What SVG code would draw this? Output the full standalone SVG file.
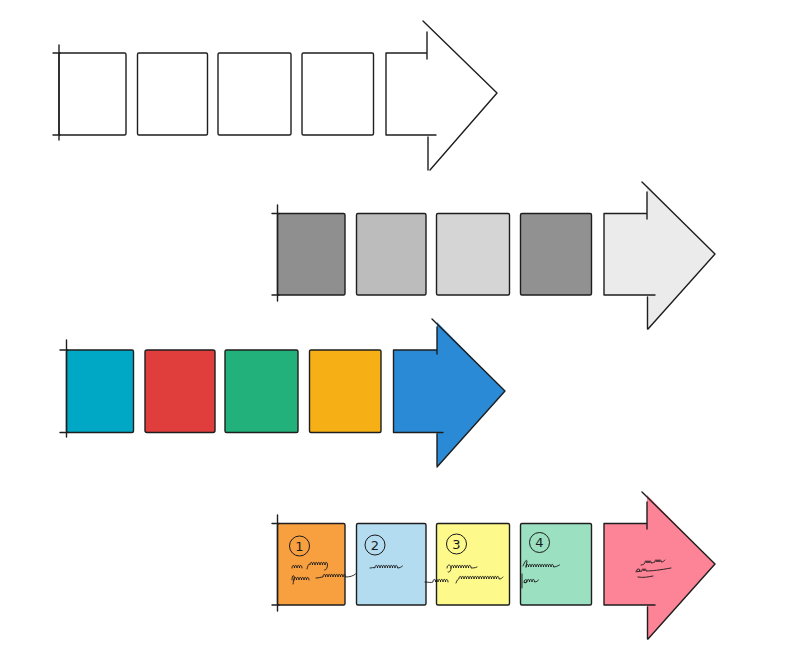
<svg xmlns="http://www.w3.org/2000/svg" width="800" height="667" viewBox="0 0 800 667">
<style>
.bx{stroke:#1e1e1e;stroke-width:1.4;stroke-linejoin:round}
.ln{fill:none;stroke:#1e1e1e;stroke-width:1.4;stroke-linecap:round;stroke-linejoin:round}
.sc{fill:none;stroke:#1a1a1a;stroke-width:0.9;stroke-linecap:round;stroke-linejoin:round}
.num{font-family:"DejaVu Sans",sans-serif;font-size:13px;fill:#1a1a1a;text-anchor:middle}
.cir{fill:none;stroke:#1a1a1a;stroke-width:1}
</style>
<rect width="800" height="667" fill="#ffffff"/>

<!-- Row 1 -->
<g id="r1-box1"><rect class="bx" x="59" y="53" width="67" height="82" rx="1.5" fill="#ffffff"/><path class="ln" d="M53,53 H60 M53,135 H60 M59,45 V140"/></g>
<g id="r1-box2"><rect class="bx" x="137.5" y="53" width="70" height="82" rx="1.5" fill="#ffffff"/></g>
<g id="r1-box3"><rect class="bx" x="218" y="53" width="73" height="82" rx="1.5" fill="#ffffff"/></g>
<g id="r1-box4"><rect class="bx" x="302" y="53" width="71.5" height="82" rx="1.5" fill="#ffffff"/></g>
<g id="r1-arrow"><path d="M386,53 H427 V24 L497,93 L430,170 L428,135 H386 Z" fill="#ffffff"/><path class="ln" d="M386,53 H427 M427,32 V59 M423,21 L497,93 L430,170 M386,135 H436 M428,137 V170 M386,53 V135"/></g>

<!-- Row 2 -->
<g id="r2-box1"><rect class="bx" x="277.5" y="213.5" width="67.5" height="81.5" rx="1.5" fill="#8f8f8f"/><path class="ln" d="M272,213.5 H279 M272,295 H279 M277.5,205 V301"/></g>
<g id="r2-box2"><rect class="bx" x="356.5" y="213.5" width="69.5" height="81.5" rx="1.5" fill="#bcbcbc"/></g>
<g id="r2-box3"><rect class="bx" x="436.5" y="213.5" width="73" height="81.5" rx="1.5" fill="#d5d5d5"/></g>
<g id="r2-box4"><rect class="bx" x="520.5" y="213.5" width="71" height="81.5" rx="1.5" fill="#919191"/></g>
<g id="r2-arrow"><path d="M604,213.5 H647 V185 L715,254 L648,329 L647,295 H604 Z" fill="#ebebeb"/><path class="ln" d="M604,213.5 H647 M647,192 V219 M642,182 L715,254 L648,329 M604,295 H655 M647.5,297 V329 M604,213.5 V295"/></g>

<!-- Row 3 -->
<g id="r3-box1"><rect class="bx" x="66.5" y="350" width="67" height="82.5" rx="1.5" fill="#00a8c6"/><path class="ln" d="M60,350 H68 M60,432.5 H68 M66.5,340 V437"/></g>
<g id="r3-box2"><rect class="bx" x="145" y="350" width="70" height="82.5" rx="2" fill="#e03e3d"/></g>
<g id="r3-box3"><rect class="bx" x="225" y="350" width="73" height="82.5" rx="1.5" fill="#22b17b"/></g>
<g id="r3-box4"><rect class="bx" x="309.5" y="350" width="71.5" height="82.5" rx="1.5" fill="#f6b015"/></g>
<g id="r3-arrow"><path d="M393.5,350 H437 V322 L505,391 L437,467 V432.5 H393.5 Z" fill="#2a8ad5"/><path class="ln" d="M393.5,350 H437 M437,327 V354 M432,319 L505,391 L437,467 M393.5,432.5 H443 M437,434 V466 M393.5,350 V432.5"/></g>

<!-- Row 4 -->
<g id="r4-box1"><rect class="bx" x="277.5" y="523.5" width="67.5" height="81.5" rx="1.5" fill="#f8a040"/><path class="ln" d="M272,523.5 H279 M272,605 H279 M277.5,515 V611"/>
<circle class="cir" cx="299.5" cy="546" r="10"/><text class="num" x="299.5" y="550.5">1</text>
<path class="sc" d="M292,568 c0,-3.5 2.5,-3.5 2.5,0 0,-3.5 2.5,-3.5 2.5,0 0,-3.5 2.5,-3.5 2.5,0 0,-3.5 2.5,-3.5 2.5,0 M307,569 c1,-4 2,-6 3,-4 c0,-3.5 2.5,-3.5 2.5,0 0,-3.5 2.5,-3.5 2.5,0 0,-3.5 2.5,-3.5 2.5,0 0,-3.5 2.5,-3.5 2.5,0 0,-3.5 2.5,-3.5 2.5,0 0,-3.5 2.5,-3.5 2.5,0 0,-3.5 2.5,-3.5 2.5,0 c0,3 -2,6 -3,5 M292,580 c0,-4 1,-5 2,-4 c1,2 -1,6 -1,8 M294,580 c0,-3.5 2.5,-3.5 2.5,0 0,-3.5 2.5,-3.5 2.5,0 0,-3.5 2.5,-3.5 2.5,0 0,-3.5 2.5,-3.5 2.5,0 0,-3.5 2.5,-3.5 2.5,0 0,-3.5 2.5,-3.5 2.5,0 M316,578 c3,0 5,-1 7,-1 c0,-3.5 2.5,-3.5 2.5,0 0,-3.5 2.5,-3.5 2.5,0 0,-3.5 2.5,-3.5 2.5,0 0,-3.5 2.5,-3.5 2.5,0 0,-3.5 2.5,-3.5 2.5,0 0,-3.5 2.5,-3.5 2.5,0 0,-3.5 2.5,-3.5 2.5,0 0,-3.5 2.5,-3.5 2.5,0 0,-3.5 2.5,-3.5 2.5,0 c4,0 8,-1 10,-3"/></g>
<g id="r4-box2"><rect class="bx" x="356.5" y="523.5" width="69.5" height="81.5" rx="1.5" fill="#b4dcf1"/>
<circle class="cir" cx="375" cy="545" r="10"/><text class="num" x="375" y="549.5">2</text>
<path class="sc" d="M370,568 c2,0 4,-1 5,0 c0,-3.5 2.5,-3.5 2.5,0 0,-3.5 2.5,-3.5 2.5,0 0,-3.5 2.5,-3.5 2.5,0 0,-3.5 2.5,-3.5 2.5,0 0,-3.5 2.5,-3.5 2.5,0 0,-3.5 2.5,-3.5 2.5,0 0,-3.5 2.5,-3.5 2.5,0 0,-3.5 2.5,-3.5 2.5,0 0,-3.5 2.5,-3.5 2.5,0 c2,0 4,-1 5,-2"/></g>
<g id="r4-box3"><rect class="bx" x="436.5" y="523.5" width="73" height="81.5" rx="1.5" fill="#fdf98b"/>
<circle class="cir" cx="456.5" cy="544" r="10"/><text class="num" x="456.5" y="548.5">3</text>
<path class="sc" d="M447,568 c0,-4 4,-4 4,0 c0,3 -2,5 -3,4 M451,568 c0,-3.5 2.5,-3.5 2.5,0 0,-3.5 2.5,-3.5 2.5,0 0,-3.5 2.5,-3.5 2.5,0 0,-3.5 2.5,-3.5 2.5,0 0,-3.5 2.5,-3.5 2.5,0 0,-3.5 2.5,-3.5 2.5,0 0,-3.5 2.5,-3.5 2.5,0 0,-3.5 2.5,-3.5 2.5,0 c2,0 4,0 6,-1 M425,582 c3,0 6,1 8,0 c0,-3.5 2.5,-3.5 2.5,0 0,-3.5 2.5,-3.5 2.5,0 0,-3.5 2.5,-3.5 2.5,0 0,-3.5 2.5,-3.5 2.5,0 0,-3.5 2.5,-3.5 2.5,0 0,-3.5 2.5,-3.5 2.5,0 M456,583 c1,-3 2,-4 3,-4 c0,-3.5 2.5,-3.5 2.5,0 0,-3.5 2.5,-3.5 2.5,0 0,-3.5 2.5,-3.5 2.5,0 0,-3.5 2.5,-3.5 2.5,0 0,-3.5 2.5,-3.5 2.5,0 0,-3.5 2.5,-3.5 2.5,0 0,-3.5 2.5,-3.5 2.5,0 0,-3.5 2.5,-3.5 2.5,0 0,-3.5 2.5,-3.5 2.5,0 0,-3.5 2.5,-3.5 2.5,0 0,-3.5 2.5,-3.5 2.5,0 0,-3.5 2.5,-3.5 2.5,0 0,-3.5 2.5,-3.5 2.5,0 0,-3.5 2.5,-3.5 2.5,0 0,-3.5 2.5,-3.5 2.5,0 0,-3.5 2.5,-3.5 2.5,0 c2,0 3,-1 4,-2"/></g>
<g id="r4-box4"><rect class="bx" x="520.5" y="523.5" width="71" height="81.5" rx="1.5" fill="#9be0c1"/>
<circle class="cir" cx="539.5" cy="542.5" r="10"/><text class="num" x="539.5" y="547">4</text>
<path class="sc" d="M522,574 V588 M523,566 c2,-4 3,-7 4,-5 c0,2 -1,4 -1,6 M526,567 c0,-3.5 2.5,-3.5 2.5,0 0,-3.5 2.5,-3.5 2.5,0 0,-3.5 2.5,-3.5 2.5,0 0,-3.5 2.5,-3.5 2.5,0 0,-3.5 2.5,-3.5 2.5,0 0,-3.5 2.5,-3.5 2.5,0 0,-3.5 2.5,-3.5 2.5,0 0,-3.5 2.5,-3.5 2.5,0 0,-3.5 2.5,-3.5 2.5,0 0,-3.5 2.5,-3.5 2.5,0 0,-3.5 2.5,-3.5 2.5,0 c2,0 4,-1 6,-2 M524,582 c0,-3 3,-3 3,-1 c-1,2 -3,2 -3,1 c1,1 2,1 3,0 c0,-3.5 2.5,-3.5 2.5,0 0,-3.5 2.5,-3.5 2.5,0 0,-3.5 2.5,-3.5 2.5,0 c2,0 3,-1 4,-2"/></g>
<g id="r4-arrow"><path d="M604,523.5 H647 V495 L715,564 L648,639 L647,605 H604 Z" fill="#fd8396"/><path class="ln" d="M604,523.5 H647 M647,502 V529 M642,492 L715,564 L648,639 M604,605 H655 M647.5,607 V639 M604,523.5 V605"/>
<path class="sc" d="M641,565 c2,0 3,-1 4,-2 c0,-3 2,-3 2,0 0,-3 2,-3 2,0 0,-3 2,-3 2,0 c2,0 3,-1 4,-1 c0,-3 2,-3 2,0 0,-3 2,-3 2,0 0,-3 2,-3 2,0 c2,0 3,-1 4,-2 M636,572 c0,-3 3,-4 4,-2 c-1,2 -3,2 -3,1 c2,1 4,0 5,0 c0,-3 2,-3 2,0 0,-3 2,-3 2,0 c6,0 14,-1 25,-3 M638,577 c5,1 10,0 15,-1"/></g>

<g id="connectors"></g>
</svg>
